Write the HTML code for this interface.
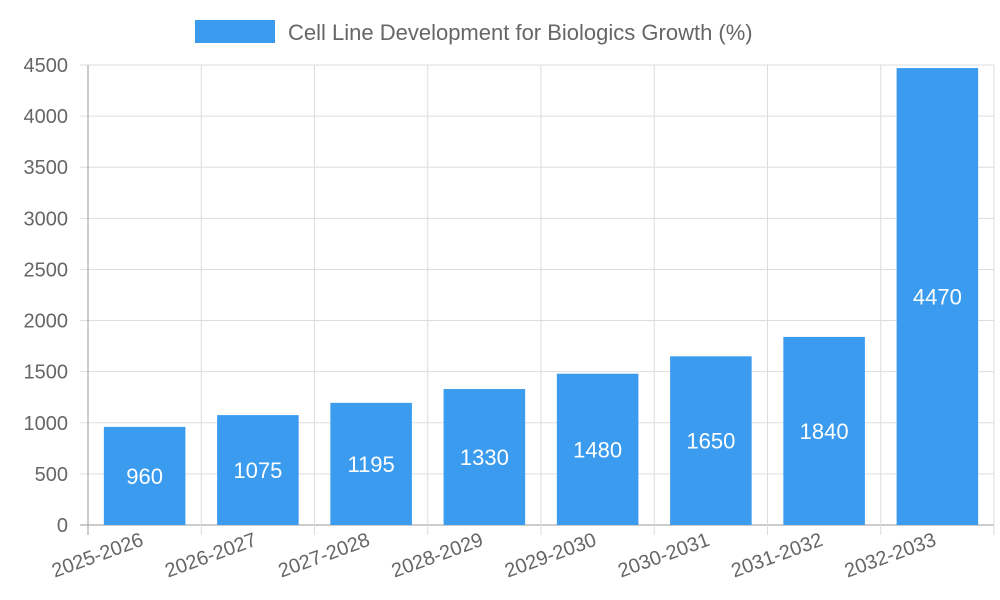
<!DOCTYPE html>
<html><head><meta charset="utf-8"><style>
html,body{margin:0;padding:0;background:#fff;width:1000px;height:600px;overflow:hidden}
text{font-family:"Liberation Sans",sans-serif}
</style></head><body>
<svg id="chart" width="1000" height="600" xmlns="http://www.w3.org/2000/svg">
<rect x="195" y="20" width="80" height="23" fill="#3a9bef"/>
<text x="288" y="40" font-size="22" fill="#666">Cell Line Development for Biologics Growth (%)</text>
<g id="grid"></g><g id="bars"></g><g id="labels"></g>
</svg>
<script>
const categories=["2025-2026","2026-2027","2027-2028","2028-2029","2029-2030","2030-2031","2031-2032","2032-2033"];
const values=[960,1075,1195,1330,1480,1650,1840,4470];
const yTicks=[0,500,1000,1500,2000,2500,3000,3500,4000,4500];
const NS="http://www.w3.org/2000/svg";
const L=88,R=994,T=65,B=525,yMax=4500;
const y=v=>B-(v/yMax)*(B-T);
const band=(R-L)/categories.length;
const x=i=>L+i*band;
function mk(tag,attrs,parent,txt){const e=document.createElementNS(NS,tag);for(const k in attrs)e.setAttribute(k,attrs[k]);if(txt!==undefined)e.textContent=txt;parent.appendChild(e);return e;}
const grid=document.getElementById('grid'),bars=document.getElementById('bars'),labels=document.getElementById('labels');
yTicks.forEach(t=>{
  const l=mk('line',{x1:L-8,x2:R,y1:y(t),y2:y(t),stroke:t===0?'#999':'#ddd','stroke-width':1},grid);
  
  
  const tx=mk('text',{x:L-20,y:y(t)+7,'text-anchor':'end','font-size':20,fill:'#666'},labels,String(t));
  
  
});
for(let i=0;i<=categories.length;i++){
  const l=mk('line',{x1:x(i),x2:x(i),y1:T,y2:B+10,stroke:i===0?'#999':'#ddd','stroke-width':1},grid);
  
  
}
categories.forEach((c,i)=>{
  const cx=x(i)+band/2,w=band*0.72;
  const r=mk('rect',{x:cx-w/2,y:y(values[i]),width:w,height:B-y(values[i]),fill:'#3a9bef'},bars);
  
  
  const v=mk('text',{x:cx,y:(y(values[i])+B)/2+8,'text-anchor':'middle','font-size':22,fill:'#fff'},labels,String(values[i]));
  
  
  const tx=mk('text',{x:cx,y:B+20,'text-anchor':'end','font-size':20,fill:'#666',transform:`rotate(-20 ${cx} ${B+20})`},labels,c);
  
  
});
</script>
</body></html>
